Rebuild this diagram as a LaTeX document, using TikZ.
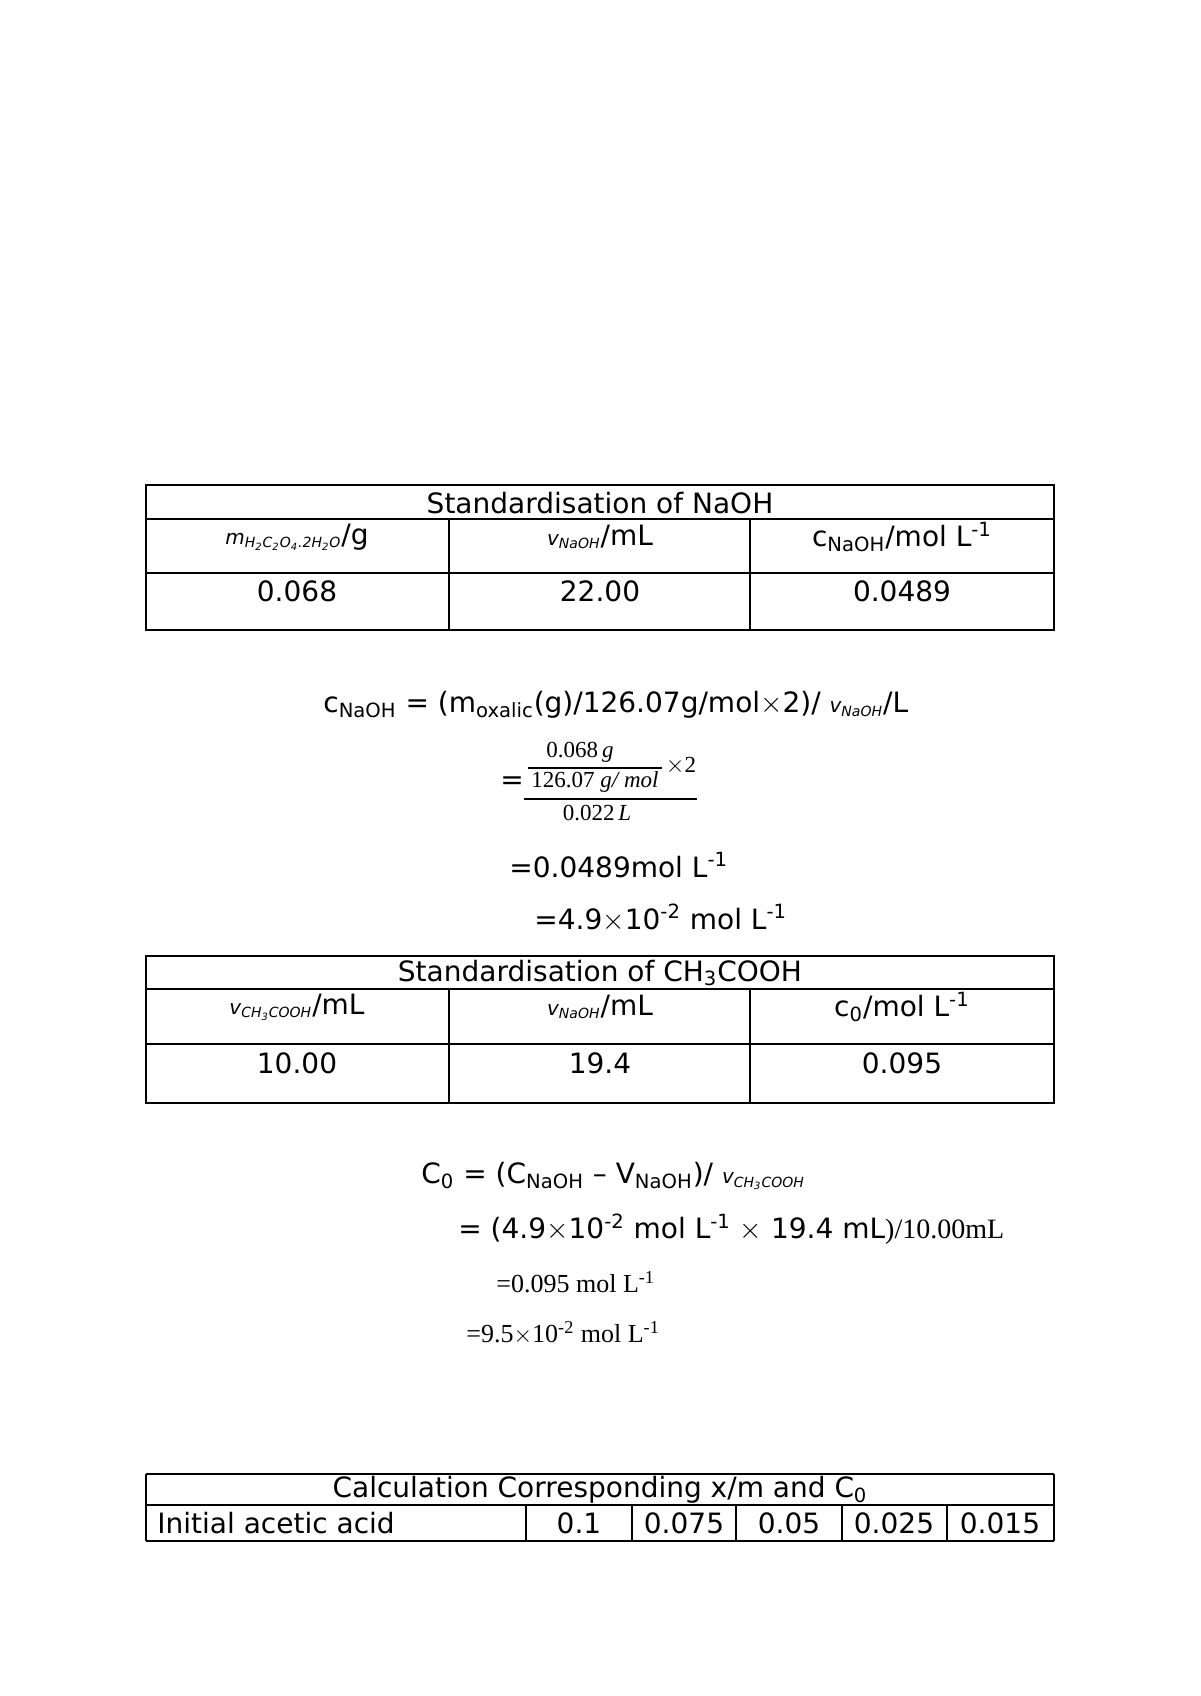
\documentclass[tikz,border=0pt]{standalone}
\usepackage{fontspec}
\setmainfont{DejaVu Sans}
\newfontfamily\tms{Liberation Serif}
\begin{document}
\begin{tikzpicture}[x=0.5pt,y=-0.5pt,
  every node/.style={inner sep=0pt,font=\fontsize{14}{16}\selectfont},
  tline/.style={line width=0.6pt}]
\useasboundingbox (0,0) rectangle (1200,1696);
\newcommand{\sbs}[1]{\textsubscript{#1}}
\newcommand{\sps}[1]{\textsuperscript{#1}}
% Table 1
\draw[tline] (146,485) rectangle (1054,630);
\draw[tline] (146,519) -- (1054,519) (146,573) -- (1054,573) (449,519) -- (449,630) (750,519) -- (750,630);
\node (t1h) at (600,503) {Standardisation of NaOH};
\node (t1a) at (297,537) {{\itshape\fontsize{10}{11}\selectfont m\textsubscript{H\textsubscript{2}C\textsubscript{2}O\textsubscript{4}.2H\textsubscript{2}O}}/g};
\node (t1b) at (600,537) {{\itshape\fontsize{10}{11}\selectfont v\textsubscript{NaOH}}/mL};
\node (t1c) at (902,537) {c\sbs{NaOH}/mol L\sps{-1}};
\node (t1d) at (297,591) {0.068};
\node (t1e) at (600,591) {22.00};
\node (t1f) at (902,591) {0.0489};
% formula 1
\node[anchor=west] (f1) at (323,705) {c\sbs{NaOH} = (m\sbs{oxalic}(g)/126.07g/mol$\times$2)/ {\itshape\fontsize{10}{11}\selectfont v\textsubscript{NaOH}}/L};
\node (eq) at (512,783) {=};
\node[font=\tms\fontsize{11.5}{13}\selectfont] (fa) at (580,752) {0.068\,\itshape g};
\draw[line width=0.8pt] (528,768) -- (662,768);
\node[font=\tms\fontsize{11.5}{13}\selectfont] (fb) at (595,782) {126.07 \itshape g/ mol};
\node[font=\tms\fontsize{11.5}{13}\selectfont] (fx) at (681,766) {$\times$2};
\draw[line width=0.8pt] (524,799) -- (697,799);
\node[font=\tms\fontsize{11.5}{13}\selectfont] (fc) at (597,813) {0.022\,\itshape L};
\node[anchor=west] (f2) at (509,865) {=0.0489mol L\sps{-1}};
\node[anchor=west] (f3) at (534,918) {=4.9$\times$10\sps{-2} mol L\sps{-1}};
% Table 2
\draw[tline] (146,956) rectangle (1054,1103);
\draw[tline] (146,989) -- (1054,989) (146,1044) -- (1054,1044) (449,989) -- (449,1103) (750,989) -- (750,1103);
\node (t2h) at (600,973) {Standardisation of CH\sbs{3}COOH};
\node (t2a) at (297,1007) {{\itshape\fontsize{10}{11}\selectfont v\textsubscript{CH\textsubscript{3}COOH}}/mL};
\node (t2b) at (600,1007) {{\itshape\fontsize{10}{11}\selectfont v\textsubscript{NaOH}}/mL};
\node (t2c) at (902,1007) {c\sbs{0}/mol L\sps{-1}};
\node (t2d) at (297,1063) {10.00};
\node (t2e) at (600,1063) {19.4};
\node (t2f) at (902,1063) {0.095};
% formula 2
\node[anchor=west] (g1) at (421,1176) {C\sbs{0} = (C\sbs{NaOH} – V\sbs{NaOH})/ {\itshape\fontsize{10}{11}\selectfont v\textsubscript{CH\textsubscript{3}COOH}}};
\node[anchor=west] (g2) at (458,1229) {= (4.9$\times$10\sps{-2} mol L\sps{-1} $\times$ 19.4 mL{\tms\fontsize{14}{16}\selectfont)/10.00mL}};
\node[anchor=west,font=\tms\fontsize{13}{15}\selectfont] (g3) at (496,1282) {=0.095 mol L\textsuperscript{-1}};
\node[anchor=west,font=\tms\fontsize{13}{15}\selectfont] (g4) at (466,1333) {=9.5$\times$10\textsuperscript{-2} mol L\textsuperscript{-1}};
% Table 3
\draw[tline] (146,1474) -- (1054,1474) (146,1505) -- (1054,1505) (146,1541) -- (1054,1541);
\draw[tline] (146,1474) -- (146,1541) (1054,1474) -- (1054,1541);
\foreach \x in {526,632,736,842,947} \draw[tline] (\x,1505) -- (\x,1541);
\node (t3h) at (600,1490) {Calculation Corresponding x/m and C\sbs{0}};
\node[anchor=west] (t3a) at (157,1523) {Initial acetic acid};
\node (t3b) at (579,1523) {0.1};
\node (t3c) at (684,1523) {0.075};
\node (t3d) at (789,1523) {0.05};
\node (t3e) at (894,1523) {0.025};
\node (t3f) at (1000,1523) {0.015};
\end{tikzpicture}
\end{document}
